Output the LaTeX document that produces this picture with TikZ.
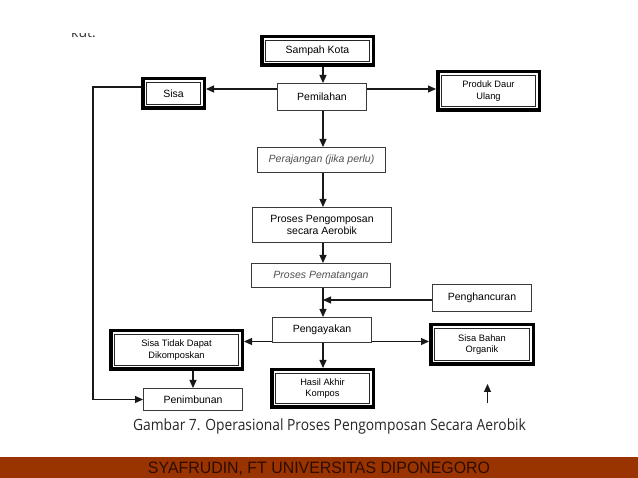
\documentclass[tikz,border=0pt]{standalone}
\usepackage{fontspec}
\setmainfont{Liberation Sans}
\newfontfamily\capfont{Open Sans}
\usetikzlibrary{arrows.meta}
\definecolor{footbar}{HTML}{993300}
\definecolor{foottext}{HTML}{2E0C00}
\definecolor{boxline}{HTML}{3A3A3A}
\definecolor{itgrey}{HTML}{505050}
\tikzset{
  box/.style={draw=boxline, line width=1pt, fill=white, inner sep=0pt, align=center,
    font=\fontsize{10.5}{12.5}\selectfont},
  dbox/.style={draw=black, line width=3.5pt, fill=white, inner sep=0pt, align=center,
    font=\fontsize{9.3}{11.5}\selectfont,
    path picture={\draw[line width=1pt, black!85]
      ([shift={(3.8pt,3.8pt)}]path picture bounding box.south west) rectangle
      ([shift={(-3.8pt,-3.8pt)}]path picture bounding box.north east);}},
  arr/.style={draw=black!90, line width=1.1pt, -{Triangle[length=8pt,width=7pt]}},
}
\begin{document}
\begin{tikzpicture}[x=1pt,y=-1pt]
\useasboundingbox (0,0) rectangle (638,478);

% partial text at top-left (cut off by the slide edge)
\begin{scope}
  \clip (60,33.5) rectangle (120,40);
  \node[anchor=base west, inner sep=0pt, text=black!80, font=\capfont\fontsize{14}{16}\selectfont] (kut) at (71,38) {kut.};
\end{scope}

% double-bordered boxes
\node[dbox, minimum width=111.5pt, minimum height=28.5pt, font=\fontsize{10.5}{12.5}\selectfont] (sampah) at (317.5,51) {Sampah Kota};
\node[dbox, minimum width=61.5pt, minimum height=29.5pt, font=\fontsize{10.5}{12.5}\selectfont] (sisa) at (173.5,93.5) {Sisa};
\node[dbox, minimum width=101.5pt, minimum height=38.5pt] (produk) at (488.5,91) {Produk Daur\\Ulang};
\node[dbox, minimum width=131.5pt, minimum height=38.5pt] (sisatidak) at (176.5,350) {Sisa Tidak Dapat\\Dikomposkan};
\node[dbox, minimum width=102.5pt, minimum height=39.5pt] (sisabahan) at (482,344.5) {Sisa Bahan\\Organik};
\node[dbox, minimum width=101.5pt, minimum height=37.5pt] (hasil) at (322.5,388.5) {Hasil Akhir\\Kompos};

% single boxes
\node[box, minimum width=89pt, minimum height=27pt] (pemilahan) at (322,97) {Pemilahan};
\node[box, minimum width=128pt, minimum height=25pt, font=\itshape\fontsize{10.5}{12.5}\selectfont, text=itgrey] (perajangan) at (321.5,160) {Perajangan (jika perlu)};
\node[box, minimum width=139pt, minimum height=35pt] (kompos) at (322,225) {Proses Pengomposan\\secara Aerobik};
\node[box, minimum width=139pt, minimum height=24pt, font=\itshape\fontsize{10.5}{12.5}\selectfont, text=itgrey] (pematangan) at (321,275.5) {Proses Pematangan};
\node[box, minimum width=99pt, minimum height=27pt] (penghancuran) at (482,298) {Penghancuran};
\node[box, minimum width=99pt, minimum height=25pt] (pengayakan) at (322,330) {Pengayakan};
\node[box, minimum width=99pt, minimum height=22pt] (penimbunan) at (193,399.5) {Penimbunan};

% helper coordinates
\coordinate (vx) at (323,0);
\coordinate (hy) at (0,89);
\coordinate (sy) at (0,87);
\coordinate (lx) at (93,0);
\coordinate (gy) at (0,341.5);
\coordinate (py) at (0,300);
\coordinate (tx) at (193,0);
\coordinate (s1) at (487.5,403.5);
\coordinate (s2) at (487.5,384);

% connectors
\draw[arr] (sampah.south -| vx) -- (pemilahan.north -| vx);
\draw[arr] (pemilahan.west |- hy) -- (sisa.east |- hy);
\draw[arr] (pemilahan.east |- hy) -- (produk.west |- hy);
\draw[arr] (pemilahan.south -| vx) -- (perajangan.north -| vx);
\draw[arr] (perajangan.south -| vx) -- (kompos.north -| vx);
\draw[arr] (kompos.south -| vx) -- (pematangan.north -| vx);
\draw[arr] (pematangan.south -| vx) -- (pengayakan.north -| vx);
\draw[arr] (penghancuran.west |- py) -- (vx |- py);
\draw[arr] (pengayakan.west |- gy) -- (sisatidak.east |- gy);
\draw[arr] (pengayakan.east |- gy) -- (sisabahan.west |- gy);
\draw[arr] (pengayakan.south -| vx) -- (hasil.north -| vx);
\draw[arr] (sisatidak.south -| tx) -- (penimbunan.north -| tx);
\draw[arr] (sisa.west |- sy) -- (lx |- sy) -- (lx |- penimbunan.west) -- (penimbunan.west);
\draw[arr] (s1) -- (s2);

% caption
\node[anchor=base, inner sep=0pt, text=black!85, font=\capfont\fontsize{15.5}{18}\selectfont] (caption) at (329.5,430.3)
  {\resizebox{393pt}{\height}{Gambar 7. Operasional Proses Pengomposan Secara Aerobik}};

% footer
\fill[footbar] (0,457) rectangle (638,478);
\node[anchor=base, inner sep=0pt, text=foottext, font=\fontsize{16.5}{20}\selectfont] (footer) at (319,474)
  {\resizebox{342pt}{\height}{SYAFRUDIN, FT UNIVERSITAS DIPONEGORO}};
\end{tikzpicture}
\end{document}
